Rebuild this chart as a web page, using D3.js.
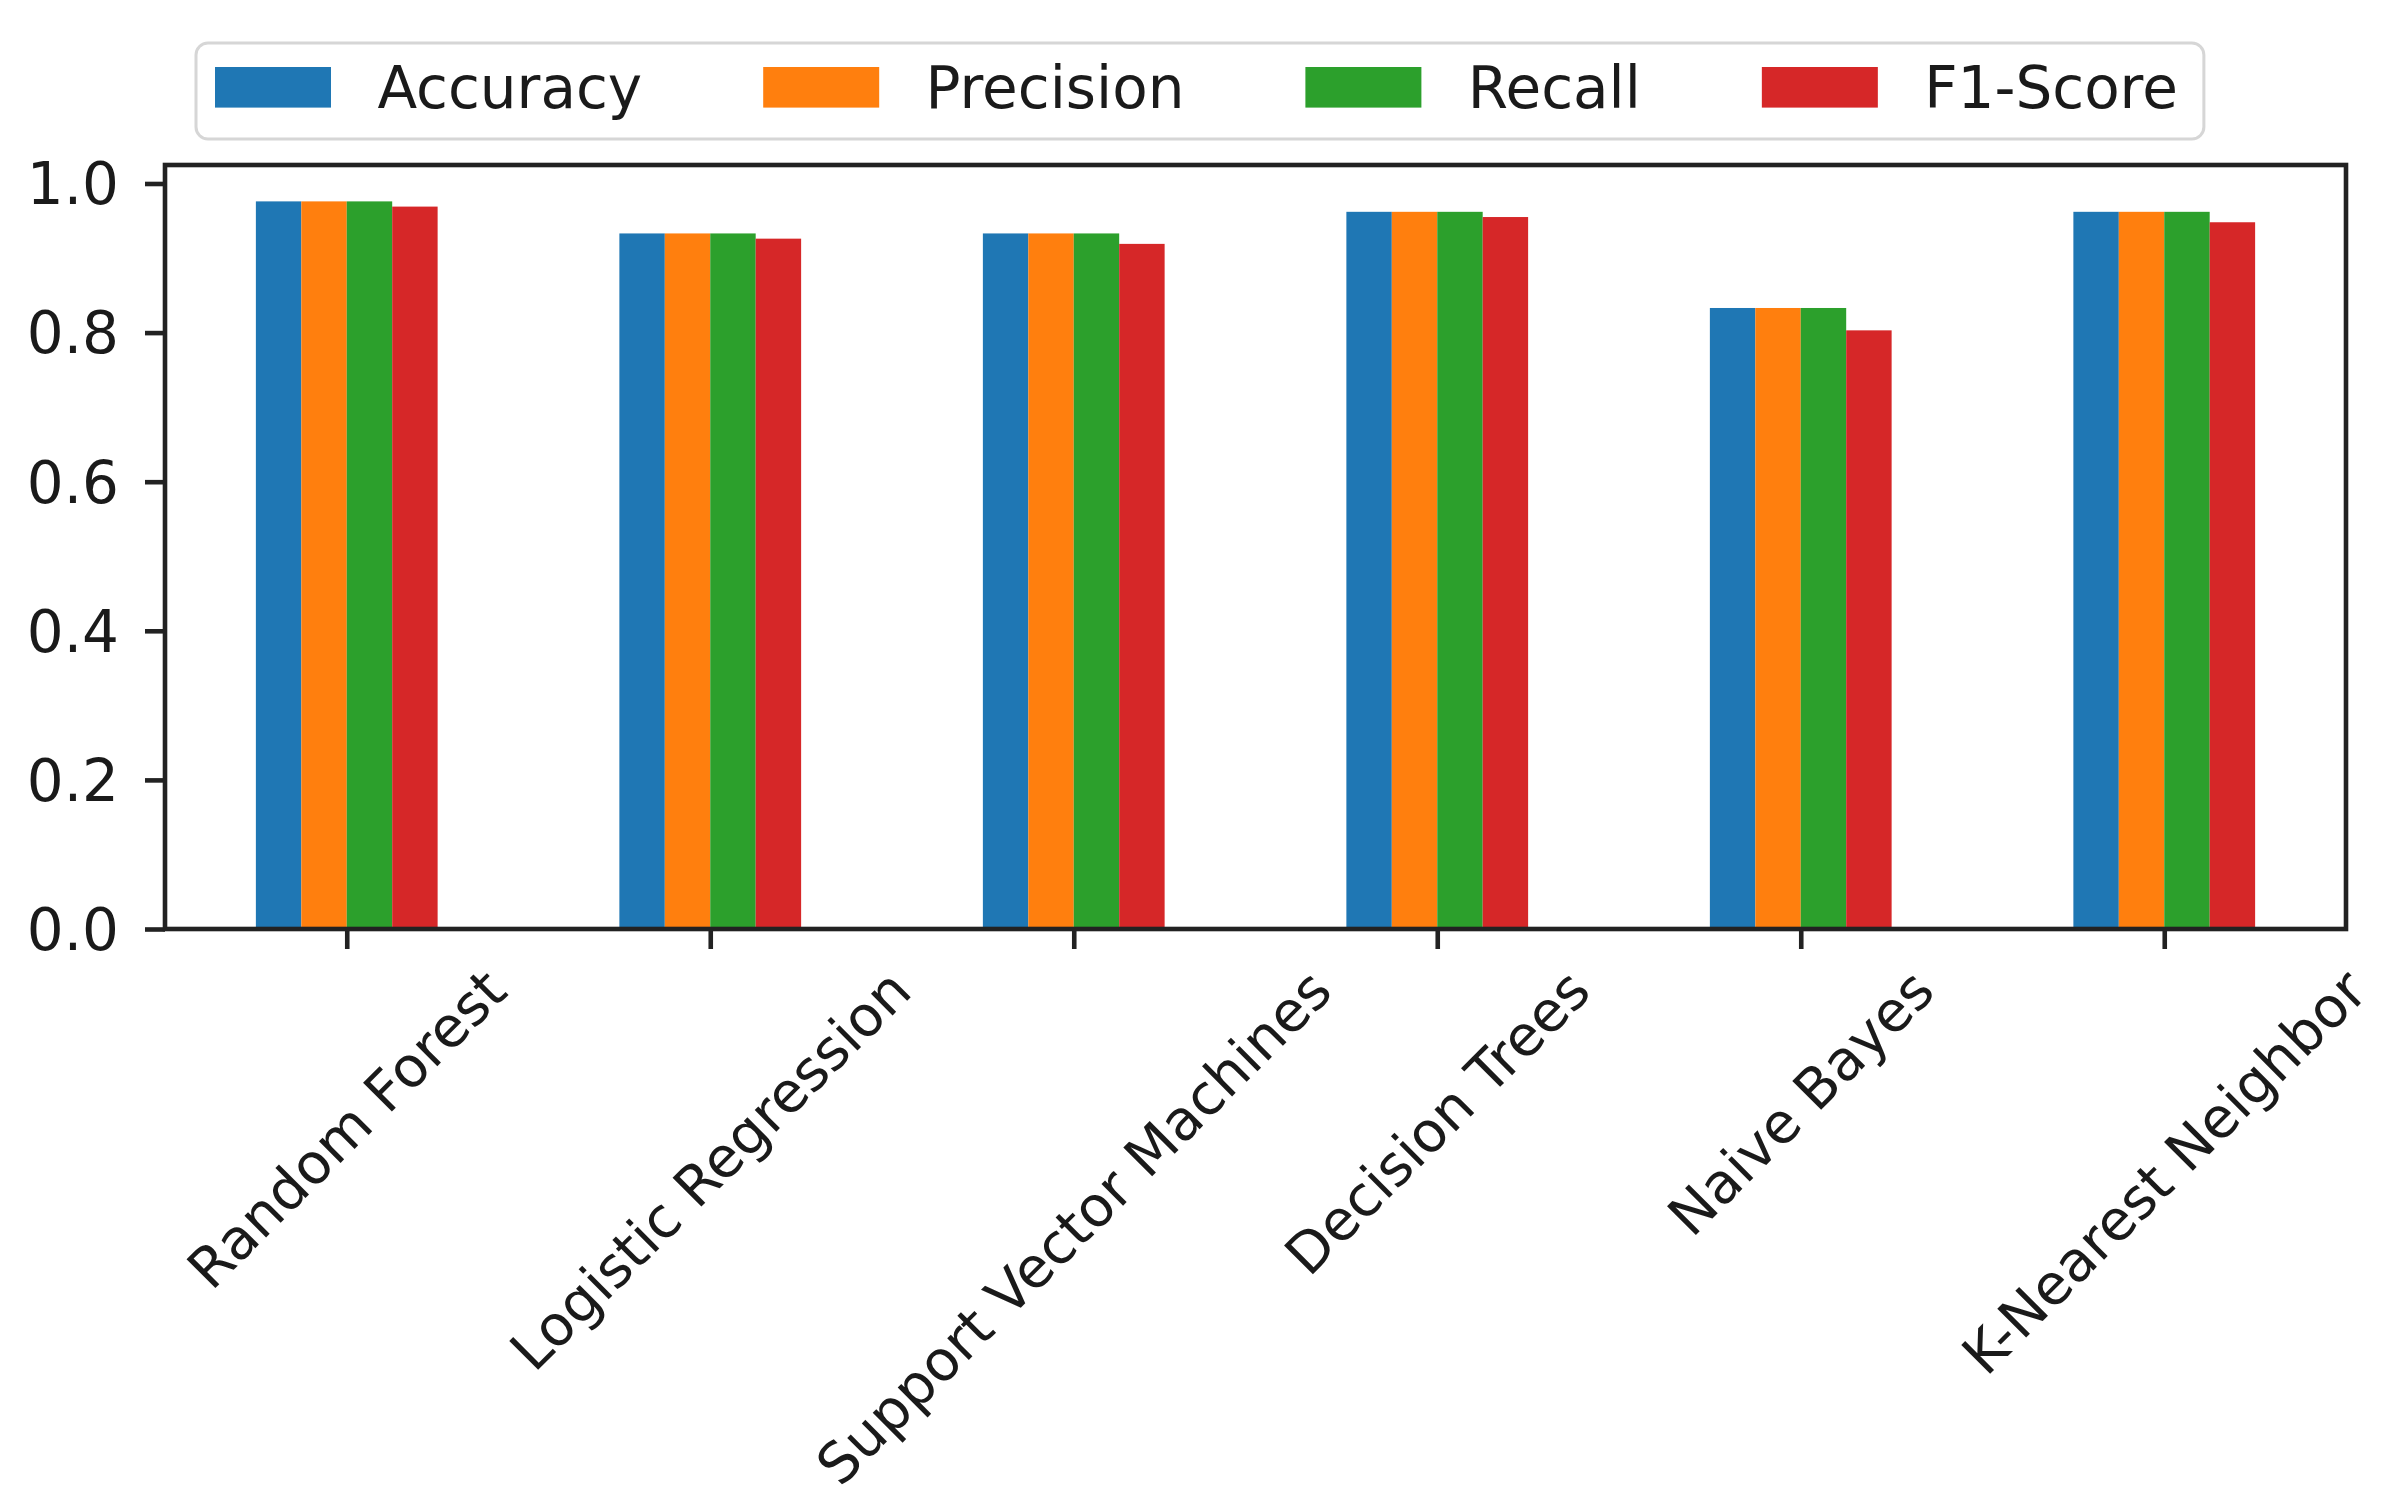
<!DOCTYPE html>
<html>
<head>
<meta charset="utf-8">
<script src="https://cdn.jsdelivr.net/npm/d3@7"></script>
<style>
  body { margin: 0; background: #fff; }
  text { font-family: "DejaVu Sans", sans-serif; fill: #1a1a1a; }
</style>
</head>
<body>
<div class="visualization"></div>
<script>
// data
const models = ["Random Forest", "Logistic Regression", "Support Vector Machines",
  "Decision Trees", "Naive Bayes", "K-Nearest Neighbor"];
const metrics = ["Accuracy", "Precision", "Recall", "F1-Score"];
const accuracy = [0.976, 0.933, 0.933, 0.962, 0.833, 0.962];
const precision = [0.976, 0.933, 0.933, 0.962, 0.833, 0.962];
const recall = [0.976, 0.933, 0.933, 0.962, 0.833, 0.962];
const f1score = [0.969, 0.926, 0.919, 0.955, 0.803, 0.948];
const yticks = [0, 0.2, 0.4, 0.6, 0.8, 1.0];
const colors = ["#1f77b4", "#ff7f0e", "#2ca02c", "#d62728"];

const series = [accuracy, precision, recall, f1score];

const canvaswidth = 2400;
const canvasheight = 1500;
const plotleft = 165;
const plotright = 2346;
const plottop = 165;
const plotbottom = 929;
const fontsize = 58;
const labelsize = 56;
const ticklen = 20;

var svgCanvas = d3.select(".visualization").
append("svg").
attr("width", canvaswidth).
attr("height", canvasheight);

var ymax = d3.max(series.flat()) * 1.05;

var yscale = d3.scaleLinear().domain([0, ymax]).range([plotbottom, plottop]);

var groupscale = d3.scaleBand().
domain(models).
range([plotleft, plotright]).
paddingInner(0.5).
paddingOuter(0.25);

var barscale = d3.scaleBand().
domain(metrics).
range([0, groupscale.bandwidth()]);

var tickscale = d3.scalePoint().
domain(models).
range([plotleft, plotright]).
padding(0.5);

// bars
metrics.forEach(function (m, j) {
  svgCanvas.append("g").
  selectAll("rect").
  data(series[j]).
  enter().
  append("rect").
  attr("x", (d, i) => groupscale(models[i]) + barscale(m)).
  attr("y", d => yscale(d)).
  attr("width", barscale.bandwidth()).
  attr("height", d => plotbottom - yscale(d)).
  attr("fill", colors[j]);
});

// axes
var yaxis = d3.axisLeft(yscale).
tickValues(yticks).
tickFormat(d3.format(".1f")).
tickSize(ticklen).
tickPadding(26);

var xaxis = d3.axisBottom(tickscale).
tickSize(ticklen).
tickFormat("");

var yg = svgCanvas.append("g").
attr("transform", "translate(" + plotleft + ",0)").
call(yaxis);

var xg = svgCanvas.append("g").
attr("transform", "translate(0," + plotbottom + ")").
call(xaxis);

[yg, xg].forEach(function (g) {
  g.select(".domain").remove();
  g.selectAll(".tick line").attr("stroke", "#222").attr("stroke-width", 4.6);
});

yg.selectAll(".tick text").
attr("font-size", fontsize).
attr("font-family", "DejaVu Sans").
attr("fill", "#1a1a1a").
attr("dy", "0.35em");

// frame
svgCanvas.append("rect").
attr("x", plotleft).
attr("y", plottop).
attr("width", plotright - plotleft).
attr("height", plotbottom - plottop).
attr("fill", "none").
attr("stroke", "#222").
attr("stroke-width", 4.6);

// rotated category labels, bbox centred under tick
var labeltop = plotbottom + ticklen + 8;
var lineheight = labelsize * 1.164;

models.forEach(function (name) {
  var t = svgCanvas.append("text").
  attr("font-size", labelsize).
  attr("text-anchor", "middle").
  attr("dy", "0.35em").
  text(name);

  var len = t.node().getComputedTextLength();
  var cx = tickscale(name);
  var cy = labeltop + (len + lineheight) / (2 * Math.SQRT2);

  t.attr("x", cx).
  attr("y", cy).
  attr("transform", "rotate(-45," + cx + "," + cy + ")");
});

// legend
var legend = svgCanvas.append("g");
var legendbox = legend.append("rect").
attr("x", 196).
attr("y", 43).
attr("height", 96).
attr("rx", 12).
attr("fill", "#fff").
attr("stroke", "#d6d6d6").
attr("stroke-width", 3);

var cursor = 215;
metrics.forEach(function (m, j) {
  legend.append("rect").
  attr("x", cursor).
  attr("y", 67).
  attr("width", 2 * fontsize).
  attr("height", 0.7 * fontsize).
  attr("fill", colors[j]);

  var t = legend.append("text").
  attr("x", cursor + 2.8 * fontsize).
  attr("y", 108).
  attr("font-size", fontsize).
  text(m);

  var w = t.node().getComputedTextLength();
  cursor = cursor + 2.8 * fontsize + w + (j < metrics.length - 1 ? 2 * fontsize + 5 : 0);
});

legendbox.attr("width", cursor + 26 - 196);
</script>
</body>
</html>
